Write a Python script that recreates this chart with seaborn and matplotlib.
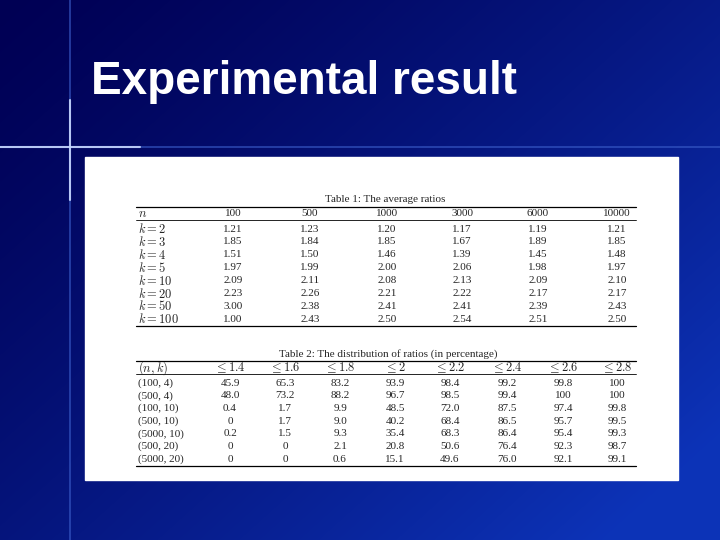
import numpy as np
import matplotlib
matplotlib.use("Agg")
import matplotlib.pyplot as plt
import seaborn as sns

sns.set_theme(style="white")
plt.rcParams["mathtext.fontset"] = "cm"

slide_title = "Experimental result"

t1_caption = "Table 1: The average ratios"
t1_cols = ["100", "500", "1000", "3000", "6000", "10000"]
t1_rows = [2, 3, 4, 5, 10, 20, 50, 100]
t1_vals = [
    ["1.21", "1.23", "1.20", "1.17", "1.19", "1.21"],
    ["1.85", "1.84", "1.85", "1.67", "1.89", "1.85"],
    ["1.51", "1.50", "1.46", "1.39", "1.45", "1.48"],
    ["1.97", "1.99", "2.00", "2.06", "1.98", "1.97"],
    ["2.09", "2.11", "2.08", "2.13", "2.09", "2.10"],
    ["2.23", "2.26", "2.21", "2.22", "2.17", "2.17"],
    ["3.00", "2.38", "2.41", "2.41", "2.39", "2.43"],
    ["1.00", "2.43", "2.50", "2.54", "2.51", "2.50"],
]

t2_caption = "Table 2: The distribution of ratios (in percentage)"
t2_cols = ["1.4", "1.6", "1.8", "2", "2.2", "2.4", "2.6", "2.8"]
t2_rows = ["(100, 4)", "(500, 4)", "(100, 10)", "(500, 10)", "(5000, 10)", "(500, 20)", "(5000, 20)"]
t2_vals = [
    ["45.9", "65.3", "83.2", "93.9", "98.4", "99.2", "99.8", "100"],
    ["48.0", "73.2", "88.2", "96.7", "98.5", "99.4", "100", "100"],
    ["0.4", "1.7", "9.9", "48.5", "72.0", "87.5", "97.4", "99.8"],
    ["0", "1.7", "9.0", "40.2", "68.4", "86.5", "95.7", "99.5"],
    ["0.2", "1.5", "9.3", "35.4", "68.3", "86.4", "95.4", "99.3"],
    ["0", "0", "2.1", "20.8", "50.6", "76.4", "92.3", "98.7"],
    ["0", "0", "0.6", "15.1", "49.6", "76.0", "92.1", "99.1"],
]

fig = plt.figure(figsize=(7.2, 5.4), dpi=100)
ax = fig.add_axes([0, 0, 1, 1])
ax.set_xlim(0, 720)
ax.set_ylim(540, 0)
ax.axis("off")

# slide background: dark navy getting lighter to the lower right
yy, xx = np.mgrid[0:540, 0:720]
t = np.clip((xx / 720) * 0.6 + (yy / 540) * 0.5, 0, 1)
dark = np.array([0.0, 0.0, 0.33])
light = np.array([0.05, 0.2, 0.72])
bg = dark + (light - dark) * t[..., None] ** 1.3
ax.imshow(bg, extent=(0, 720, 540, 0), zorder=0)

# decorative cross flare
ax.plot([70, 70], [0, 540], color="#3a5cc8", lw=1.2, alpha=0.7, zorder=1)
ax.plot([0, 720], [147, 147], color="#3a5cc8", lw=1.2, alpha=0.7, zorder=1)
ax.plot([0, 140], [147, 147], color="#c8d8ff", lw=1.5, alpha=0.9, zorder=1)
ax.plot([70, 70], [100, 200], color="#c8d8ff", lw=1.5, alpha=0.9, zorder=1)

ax.text(91, 82, slide_title, color="white", fontsize=33, fontweight="bold",
        family="Liberation Sans", va="center", ha="left")

ax.add_patch(plt.Rectangle((85, 157), 593, 323, color="white", zorder=2))

serif = "Liberation Serif"
fs = 8

# Table 1
ax.text(385, 200, t1_caption, fontsize=fs, family=serif, ha="center", va="center", zorder=3)
for y, w in [(207, 0.9), (220, 0.6), (326, 0.9)]:
    ax.plot([136, 636], [y, y], color="black", lw=w, zorder=3)
t1_x = [233, 310, 387, 462, 538, 617]
ax.text(138, 213.5, r"$n$", fontsize=fs + 1, ha="left", va="center", zorder=3)
for x, c in zip(t1_x, t1_cols):
    ax.text(x, 213.5, c, fontsize=fs, family=serif, ha="center", va="center", zorder=3)
for i, (k, row) in enumerate(zip(t1_rows, t1_vals)):
    y = 229 + i * 12.9
    ax.text(138, y, rf"$k={k}$", fontsize=fs + 1, ha="left", va="center", zorder=3)
    for x, v in zip(t1_x, row):
        ax.text(x, y, v, fontsize=fs, family=serif, ha="center", va="center", zorder=3)

# Table 2
ax.text(388, 354, t2_caption, fontsize=fs, family=serif, ha="center", va="center", zorder=3)
for y, w in [(361, 0.9), (374, 0.6), (466, 0.9)]:
    ax.plot([136, 636], [y, y], color="black", lw=w, zorder=3)
t2_x = [230, 285, 340, 395, 450, 507, 563, 617]
ax.text(138, 368, r"$(n,k)$", fontsize=fs + 1, ha="left", va="center", zorder=3)
for x, c in zip(t2_x, t2_cols):
    ax.text(x, 368, rf"$\leq {c}$", fontsize=fs + 1, ha="center", va="center", zorder=3)
for i, (lab, row) in enumerate(zip(t2_rows, t2_vals)):
    y = 383 + i * 12.7
    ax.text(138, y, lab, fontsize=fs, family=serif, ha="left", va="center", zorder=3)
    for x, v in zip(t2_x, row):
        ax.text(x, y, v, fontsize=fs, family=serif, ha="center", va="center", zorder=3)

fig.savefig("out.png", dpi=100)
